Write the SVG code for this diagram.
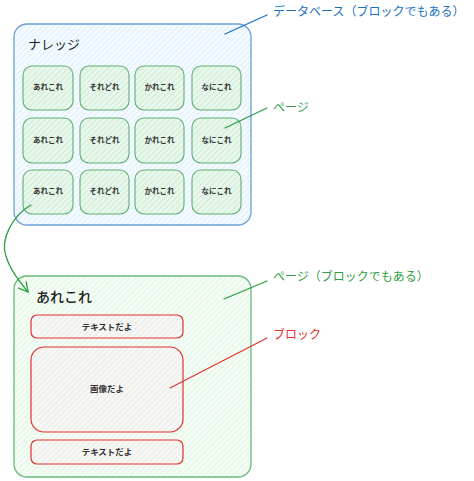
<svg xmlns="http://www.w3.org/2000/svg" width="474" height="481" viewBox="0 0 474 481">
<defs>
<pattern id="hBlue" width="4" height="4" patternUnits="userSpaceOnUse" patternTransform="rotate(45)"><rect width="4" height="4" fill="#f5faff"/><line x1="0" y1="0" x2="0" y2="4" stroke="#c6e5fb" stroke-width="1"/></pattern>
<pattern id="hGreen" width="4" height="4" patternUnits="userSpaceOnUse" patternTransform="rotate(45)"><rect width="4" height="4" fill="#f4fcf5"/><line x1="0" y1="0" x2="0" y2="4" stroke="#cdf0d3" stroke-width="1"/></pattern>
<pattern id="hGreen2" width="4" height="4" patternUnits="userSpaceOnUse" patternTransform="rotate(45)"><rect width="4" height="4" fill="#e9f7ec"/><line x1="0" y1="0" x2="0" y2="4" stroke="#b3e3bc" stroke-width="1.1"/></pattern>
<pattern id="hGrey" width="4" height="4" patternUnits="userSpaceOnUse" patternTransform="rotate(45)"><rect width="4" height="4" fill="#f7f8f5"/><line x1="0" y1="0" x2="0" y2="4" stroke="#dcdfd8" stroke-width="1"/></pattern>
<marker id="arr" markerWidth="12" markerHeight="12" refX="10" refY="6" orient="auto" markerUnits="userSpaceOnUse"><path d="M1,1 L10,6 L1,11" fill="none" stroke="#2f9e44" stroke-width="1.3" stroke-linecap="round"/></marker>
</defs>
<style>
text{font-family:"Noto Sans CJK JP","Noto Sans",sans-serif}
.t{fill:#1e1e1e}
.s{font-size:7.5px;font-weight:bold;fill:#333;text-anchor:middle}
.m{font-size:8.5px;font-weight:bold;fill:#333;text-anchor:middle}
.l{font-size:12px}
.page rect{fill:url(#hGreen2);stroke:#5fae72;stroke-width:1.1}
.blk rect{fill:url(#hGrey);stroke:#e03131;stroke-width:1.2}
</style>
<g id="database">
<rect x="14" y="24" width="237" height="201" rx="13" fill="url(#hBlue)" stroke="#6c9fd6" stroke-width="1.3"/>
<text x="28" y="49" class="t" font-size="13">ナレッジ</text>
</g>
<g id="pages" class="page">
<g id="p11"><rect x="23" y="66" width="50" height="44" rx="9"/><text x="48" y="90" class="s">あれこれ</text></g>
<g id="p12"><rect x="80" y="66" width="49" height="44" rx="9"/><text x="104.5" y="90" class="s">それどれ</text></g>
<g id="p13"><rect x="135" y="66" width="49" height="44" rx="9"/><text x="159.5" y="90" class="s">かれこれ</text></g>
<g id="p14"><rect x="192" y="66" width="49" height="44" rx="9"/><text x="216.5" y="90" class="s">なにこれ</text></g>
<g id="p21"><rect x="23" y="118" width="50" height="45" rx="9"/><text x="48" y="143" class="s">あれこれ</text></g>
<g id="p22"><rect x="80" y="118" width="49" height="45" rx="9"/><text x="104.5" y="143" class="s">それどれ</text></g>
<g id="p23"><rect x="135" y="118" width="49" height="45" rx="9"/><text x="159.5" y="143" class="s">かれこれ</text></g>
<g id="p24"><rect x="192" y="118" width="49" height="45" rx="9"/><text x="216.5" y="143" class="s">なにこれ</text></g>
<g id="p31"><rect x="23" y="170" width="50" height="44" rx="9"/><text x="48" y="194" class="s">あれこれ</text></g>
<g id="p32"><rect x="80" y="170" width="49" height="44" rx="9"/><text x="104.5" y="194" class="s">それどれ</text></g>
<g id="p33"><rect x="135" y="170" width="49" height="44" rx="9"/><text x="159.5" y="194" class="s">かれこれ</text></g>
<g id="p34"><rect x="192" y="170" width="49" height="44" rx="9"/><text x="216.5" y="194" class="s">なにこれ</text></g>
</g>
<g id="page">
<rect x="14" y="276" width="237" height="201" rx="13" fill="url(#hGreen)" stroke="#69b97b" stroke-width="1.3"/>
<text x="36" y="302" class="t" font-size="14" font-weight="500">あれこれ</text>
</g>
<g id="blocks" class="blk">
<g id="b1"><rect x="31" y="315" width="152" height="23" rx="6"/><text x="107" y="330" class="m">テキストだよ</text></g>
<g id="b2"><rect x="31" y="347" width="152" height="85" rx="13"/><text x="107" y="392" class="m">画像だよ</text></g>
<g id="b3"><rect x="31" y="440" width="152" height="24" rx="6"/><text x="107" y="455" class="m">テキストだよ</text></g>
</g>
<g id="labels">
<text x="273" y="16" class="l" fill="#1971c2">データベース（ブロックでもある）</text>
<text x="273" y="112" class="l" fill="#2f9e44">ページ</text>
<text x="273" y="281" class="l" fill="#2f9e44">ページ（ブロックでもある）</text>
<text x="273" y="339" class="l" fill="#e03131">ブロック</text>
</g>
<g id="connectors" fill="none" stroke-linecap="round">
<line x1="225" y1="34" x2="267" y2="15" stroke="#1971c2" stroke-width="1.3"/>
<line x1="225" y1="128" x2="267" y2="108" stroke="#2f9e44" stroke-width="1.3"/>
<line x1="224" y1="299" x2="267" y2="281" stroke="#2f9e44" stroke-width="1.3"/>
<line x1="170" y1="388" x2="267" y2="338" stroke="#e03131" stroke-width="1.1"/>
<path d="M31,205 C12,216 0,240 6,256 C10,270 20,282 28,292" stroke="#2f9e44" stroke-width="1.3" marker-end="url(#arr)"/>
</g>
</svg>
